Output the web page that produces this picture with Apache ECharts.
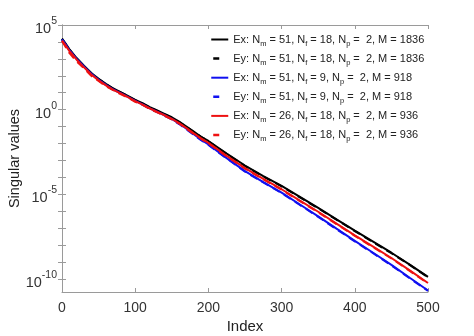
<!DOCTYPE html>
<html>
<head>
<meta charset="utf-8">
<script src="https://cdn.jsdelivr.net/npm/echarts@6/dist/echarts.min.js"></script>
<style>
html,body{margin:0;padding:0;background:#fff;}
#chart{width:474px;height:336px;}
</style>
</head>
<body>
<div id="chart"></div>
<script>
// Index positions at which the curves were read
const indexVals = [0,5,10,20,30,40,50,60,70,80,90,100,110,120,130,140,150,160,170,180,190,200,225,250,275,300,325,350,375,400,425,450,475,500];

// Singular values, given as log10(value)
const exM51F18Log = [4.2,3.9,3.58,3.05,2.6,2.17,1.82,1.52,1.25,1.04,0.82,0.58,0.38,0.15,-0.05,-0.25,-0.45,-0.7,-1.0,-1.3,-1.6,-1.85,-2.6,-3.3,-3.92,-4.5,-5.15,-5.8,-6.48,-7.15,-7.8,-8.45,-9.15,-9.88];
const eyM51F18Log = [4.18,3.85,3.55,3.02,2.57,2.15,1.8,1.5,1.24,1.02,0.8,0.56,0.36,0.13,-0.07,-0.27,-0.48,-0.73,-1.02,-1.32,-1.6,-1.87,-2.62,-3.33,-3.95,-4.53,-5.18,-5.83,-6.5,-7.17,-7.83,-8.48,-9.17,-9.9];
const exM51F9Log = [4.15,3.85,3.52,3.0,2.55,2.12,1.76,1.46,1.19,0.98,0.75,0.52,0.31,0.08,-0.12,-0.33,-0.55,-0.82,-1.13,-1.45,-1.77,-2.05,-2.86,-3.63,-4.28,-4.9,-5.6,-6.3,-7.03,-7.75,-8.45,-9.17,-9.93,-10.68];
const eyM51F9Log = [4.12,3.82,3.5,2.97,2.52,2.1,1.74,1.44,1.17,0.96,0.73,0.5,0.29,0.05,-0.15,-0.36,-0.58,-0.85,-1.16,-1.48,-1.8,-2.08,-2.88,-3.66,-4.3,-4.93,-5.63,-6.33,-7.06,-7.78,-8.48,-9.2,-9.96,-10.7];
const exM26F18Log = [4.08,3.78,3.47,2.95,2.5,2.08,1.73,1.43,1.17,0.96,0.74,0.5,0.3,0.07,-0.13,-0.33,-0.54,-0.79,-1.09,-1.4,-1.7,-1.96,-2.73,-3.45,-4.09,-4.7,-5.37,-6.03,-6.73,-7.42,-8.09,-8.76,-9.49,-10.24];
const eyM26F18Log = [4.05,3.7,3.35,2.85,2.45,2.0,1.7,1.38,1.15,0.92,0.72,0.46,0.28,0.04,-0.16,-0.36,-0.57,-0.82,-1.12,-1.43,-1.72,-1.99,-2.76,-3.48,-4.12,-4.73,-5.4,-6.06,-6.76,-7.45,-8.12,-8.79,-9.52,-10.27];

const seriesNames = [
  'Ex: Nm = 51, Nf = 18, Np = 2, M = 1836',
  'Ey: Nm = 51, Nf = 18, Np = 2, M = 1836',
  'Ex: Nm = 51, Nf = 9, Np = 2, M = 918',
  'Ey: Nm = 51, Nf = 9, Np = 2, M = 918',
  'Ex: Nm = 26, Nf = 18, Np = 2, M = 936',
  'Ey: Nm = 26, Nf = 18, Np = 2, M = 936'
];
const legendRich = [
  'Ex: N{sub|m} = 51, N{sub|f} = 18, N{sub|p} =  2, M = 1836',
  'Ey: N{sub|m} = 51, N{sub|f} = 18, N{sub|p} =  2, M = 1836',
  'Ex: N{sub|m} = 51, N{sub|f} = 9, N{sub|p} =  2, M = 918',
  'Ey: N{sub|m} = 51, N{sub|f} = 9, N{sub|p} =  2, M = 918',
  'Ex: N{sub|m} = 26, N{sub|f} = 18, N{sub|p} =  2, M = 936',
  'Ey: N{sub|m} = 26, N{sub|f} = 18, N{sub|p} =  2, M = 936'
];
const xTicks = [0,100,200,300,400,500];
const yTickValues = [1e-10,1e-9,1e-8,1e-7,1e-6,1e-5,1e-4,1e-3,1e-2,1e-1,1,1e1,1e2,1e3,1e4,1e5];
const yLabelValues = [1e-10,1e-5,1,1e5];

const seriesLogs = [exM51F18Log, eyM51F18Log, exM51F9Log, eyM51F9Log, exM26F18Log, eyM26F18Log];
const colors = ['#000000','#000000','#1010f0','#1010f0','#ee1111','#ee1111'];
const dashed = [false,true,false,true,false,true];

const FONT = '"Liberation Sans", Arial, sans-serif';
const axisGray = '#9a9a9a';

const chart = echarts.init(document.getElementById('chart'), null, {renderer:'canvas'});

const series = seriesLogs.map((arr, i) => ({
  name: seriesNames[i],
  type: 'line',
  xAxisIndex: 0,
  yAxisIndex: 0,
  symbol: 'none',
  showSymbol: false,
  animation: false,
  lineStyle: {color: colors[i], width: 2, type: dashed[i] ? [8,5] : 'solid'},
  itemStyle: {color: colors[i]},
  data: indexVals.map((x, k) => [x, Math.pow(10, arr[k])])
}));

const legendData = seriesNames.map((n, i) => ({
  name: n,
  lineStyle: dashed[i] ? {type: [0, 2, 6, 40], width: 2.5} : {type: 'solid', width: 2}
}));

const yLabelFmt = function (v) {
  const r = Math.round(Math.log10(v));
  return '{b|10}{sup|' + r + '}';
};

const xAxisBase = {
  type: 'value', min: xTicks[0], max: xTicks[xTicks.length-1], interval: 100,
  axisLine: {show: true, lineStyle: {color: axisGray, width: 1}},
  axisTick: {show: true, inside: true, length: 4, lineStyle: {color: axisGray}},
  splitLine: {show: false}
};
const yAxisBase = {
  type: 'log', logBase: 10, min: 1.7e-11, max: 1e5,
  axisLine: {show: true, lineStyle: {color: axisGray, width: 1}},
  axisTick: {show: true, inside: true, length: 4, customValues: yTickValues, lineStyle: {color: axisGray}},
  splitLine: {show: false},
  minorTick: {show: false}
};

chart.setOption({
  backgroundColor: '#ffffff',
  animation: false,
  grid: {left: 62, right: 46, top: 25, bottom: 44, containLabel: false, outerBoundsMode: 'none'},
  xAxis: [
    Object.assign({}, xAxisBase, {
      position: 'bottom',
      name: 'Index', nameLocation: 'middle', nameGap: 27, nameMoveOverlap: false,
      nameTextStyle: {fontFamily: FONT, fontSize: 15, color: '#222'},
      axisLabel: {fontFamily: FONT, fontSize: 14, color: '#333', margin: 9}
    }),
    Object.assign({}, xAxisBase, {position: 'top', axisLabel: {show: false}})
  ],
  yAxis: [
    Object.assign({}, yAxisBase, {
      position: 'left',
      name: 'Singular values', nameLocation: 'middle', nameGap: 40, nameRotate: 90, nameMoveOverlap: false,
      nameTextStyle: {fontFamily: FONT, fontSize: 14.5, color: '#222'},
      axisLabel: {
        fontFamily: FONT, fontSize: 14.5, color: '#333', margin: 5,
        customValues: yLabelValues,
        formatter: yLabelFmt,
        rich: {
          b: {fontFamily: FONT, fontSize: 14.5, color: '#333', padding: [8,0,0,0]},
          sup: {fontFamily: FONT, fontSize: 10.5, color: '#333', padding: [0,0,8,0]}
        }
      }
    }),
    Object.assign({}, yAxisBase, {position: 'right', axisLabel: {show: false}})
  ],
  legend: {
    show: true,
    orient: 'vertical',
    left: 205, top: 29,
    itemWidth: 17, itemHeight: 10, itemGap: 5.6,
    itemStyle: {opacity: 0},
    data: legendData,
    formatter: function (name) { return legendRich[seriesNames.indexOf(name)]; },
    textStyle: {
      fontFamily: FONT, fontSize: 11, color: '#222',
      rich: {sub: {fontFamily: FONT, fontSize: 7.5, color: '#222', padding: [8,0,0,0]}}
    }
  },
  series: series
});
</script>
</body>
</html>
